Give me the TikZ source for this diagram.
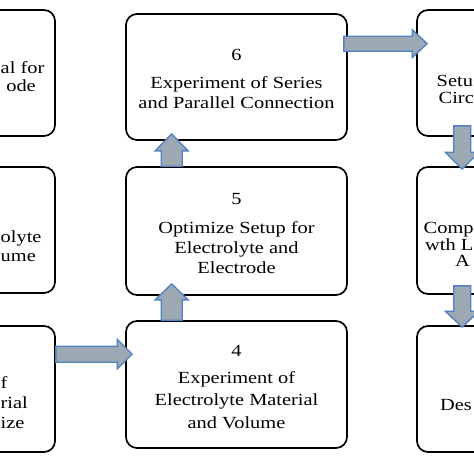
\documentclass[tikz,border=0pt]{standalone}
\usepackage{fontspec}
\setmainfont{Liberation Serif}[FakeStretch=1.2]
\usetikzlibrary{calc}
\definecolor{arrfill}{RGB}{156,168,178}
\definecolor{arrline}{RGB}{82,128,196}
\tikzset{
  stage/.style={draw=black, line width=1.7pt, rounded corners=11pt, minimum width=221pt, minimum height=126pt, inner sep=0pt, align=center, fill=white, font=\fontsize{17}{20}\selectfont},
  frag/.style={inner sep=0pt, font=\fontsize{17}{20}\selectfont},
  blockarrow/.style={fill=arrfill, draw=arrline, line width=1.3pt, line join=miter},
}
% centred text block, lowered by #1 without changing its size
\newcommand\lowtext[2]{\raisebox{-#1}[\height][\depth]{\parbox{215pt}{\centering #2}}}
% horizontal block arrow pointing right: start, tip, shaft half, head half, head length
\newcommand\harr[5]{\draw[blockarrow] let \p1=(#1), \p2=(#2) in
  (\x1,\y1+#3) -- (\x2-#5,\y1+#3) -- (\x2-#5,\y1+#4) -- (\x2,\y1) -- (\x2-#5,\y1-#4) -- (\x2-#5,\y1-#3) -- (\x1,\y1-#3) -- cycle;}
% vertical block arrow pointing up
\newcommand\uarr[5]{\draw[blockarrow] let \p1=(#1), \p2=(#2) in
  (\x1-#3,\y1) -- (\x1-#3,\y2-#5) -- (\x1-#4,\y2-#5) -- (\x1,\y2) -- (\x1+#4,\y2-#5) -- (\x1+#3,\y2-#5) -- (\x1+#3,\y1) -- cycle;}
% vertical block arrow pointing down
\newcommand\darr[5]{\draw[blockarrow] let \p1=(#1), \p2=(#2) in
  (\x1-#3,\y1) -- (\x1-#3,\y2+#5) -- (\x1-#4,\y2+#5) -- (\x1,\y2) -- (\x1+#4,\y2+#5) -- (\x1+#3,\y2+#5) -- (\x1+#3,\y1) -- cycle;}
\begin{document}
\begin{tikzpicture}[x=1pt,y=-1pt]
\useasboundingbox (0,0) rectangle (474,474);
\fill[white] (0,0) rectangle (474,474);
\clip (0,0) rectangle (474,474);
% left column (cut off)
\node[stage] (L1) at (-55.5,73) {};
\node[stage] (L2) at (-55.5,230) {};
\node[stage] (L3) at (-55.5,389) {};
% middle column
\node[stage] (b6) at (236.5,77) {\lowtext{2pt}{6\\[8pt]Experiment of Series\\and Parallel Connection}};
\node[stage, minimum height=128pt] (b5) at (236.5,231) {\lowtext{2.5pt}{5\\[9pt]Optimize Setup for\\Electrolyte and\\Electrode}};
\node[stage, minimum height=127pt, font=\fontsize{17}{22.5}\selectfont] (b4) at (236.5,384.5) {\lowtext{2.5pt}{4\\[4pt]Experiment of\\Electrolyte Material\\and Volume}};
% right column (cut off)
\node[stage] (R1) at (527.5,73) {};
\node[stage, minimum height=127pt] (R2) at (527.5,230.5) {};
\node[stage] (R3) at (527.5,389) {};
% visible text fragments
\node[frag, anchor=base west] (fl1a) at (0.5,73) {al for};
\node[frag, anchor=base east] (fl1b) at (36,91) {ode};
\node[frag, anchor=base west] (fl2a) at (0.5,242) {olyte};
\node[frag, anchor=base west] (fl2b) at (0.5,261) {ume};
\node[frag, anchor=base west] (fl3a) at (0.5,388) {f};
\node[frag, anchor=base west] (fl3b) at (0.5,408) {rial};
\node[frag, anchor=base west] (fl3c) at (0.5,428) {ize};
\node[frag, anchor=base west] (fr1a) at (436.5,86) {Setu};
\node[frag, anchor=base west] (fr1b) at (438.5,103) {Circ};
\node[frag, anchor=base west] (fr2a) at (423.5,233) {Comp};
\node[frag, anchor=base west] (fr2b) at (425,250) {wth L};
\node[frag, anchor=base west] (fr2c) at (455,266) {A};
\node[frag, anchor=base west] (fr3a) at (440,410) {Des};
% arrow anchor points
\coordinate (a1s) at ($(b6.north east)+(-4,30.5)$);
\coordinate (a1t) at ($(R1.north west)+(11,34.5)$);
\coordinate (a2s) at ($(L3.north east)+(0,29)$);
\coordinate (a2t) at ($(b4.north west)+(7,34)$);
\coordinate (a3s) at ($(b4.north west)+(46.5,0)$);
\coordinate (a3t) at ($(b5.south west)+(46.5,-12)$);
\coordinate (a4s) at ($(b5.north west)+(46.5,0)$);
\coordinate (a4t) at ($(b6.south west)+(46.5,-7)$);
\coordinate (a5s) at ($(R1.south west)+(46,-11)$);
\coordinate (a5t) at ($(R2.north west)+(46,3)$);
\coordinate (a6s) at ($(R2.south west)+(46,-9)$);
\coordinate (a6t) at ($(R3.north west)+(46,2)$);
% block arrows
\harr{a1s}{a1t}{7.5pt}{14pt}{15pt}
\harr{a2s}{a2t}{8pt}{15pt}{15pt}
\uarr{a3s}{a3t}{10.5pt}{16.5pt}{16pt}
\uarr{a4s}{a4t}{10.5pt}{16.5pt}{17pt}
\darr{a5s}{a5t}{8.5pt}{17pt}{17pt}
\darr{a6s}{a6t}{8.5pt}{17pt}{16pt}
\end{tikzpicture}
\end{document}
